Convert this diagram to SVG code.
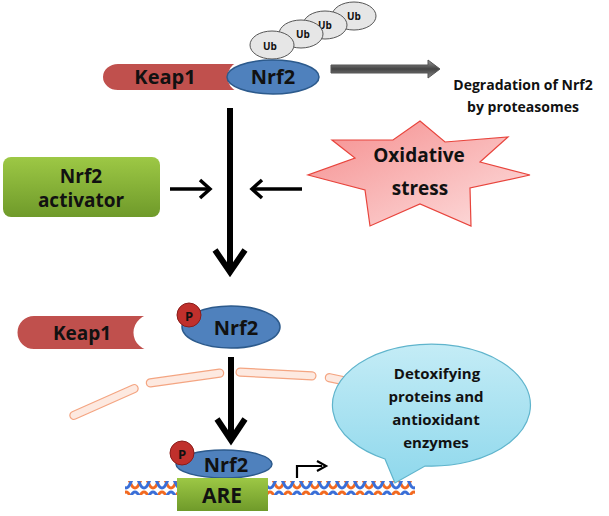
<svg xmlns="http://www.w3.org/2000/svg" width="609" height="516" viewBox="0 0 609 516">
<defs>
<linearGradient id="gr" x1="0" y1="0" x2="0" y2="1"><stop offset="0" stop-color="#9dc845"/><stop offset="1" stop-color="#6f9a2a"/></linearGradient>
<linearGradient id="st" x1="0" y1="0" x2="1" y2="1"><stop offset="0" stop-color="#f58d8d"/><stop offset="1" stop-color="#fde0e0"/></linearGradient>
<linearGradient id="bb" x1="0" y1="0" x2="0" y2="1"><stop offset="0" stop-color="#c4ecf6"/><stop offset="1" stop-color="#8fd8ec"/></linearGradient>
<linearGradient id="gy" x1="0" y1="0" x2="0" y2="1"><stop offset="0" stop-color="#999"/><stop offset="0.5" stop-color="#444"/><stop offset="1" stop-color="#888"/></linearGradient>
<pattern id="dna" width="18" height="14" patternUnits="userSpaceOnUse">
<path d="M0,2 C5,2 4,12 9,12 C14,12 13,2 18,2" fill="none" stroke="#f26a21" stroke-width="3"/>
<path d="M0,12 C5,12 4,2 9,2 C14,2 13,12 18,12" fill="none" stroke="#3a6fd8" stroke-width="3"/>
</pattern>
</defs>
<style>
text{font-family:"Open Sans","Liberation Sans",sans-serif;font-weight:bold;fill:#111;text-anchor:middle}
.keap{fill:#c0504d;stroke:#fff;stroke-width:2}
.nrf{fill:#4f81bd;stroke:#2c5a8c;stroke-width:1.5}
.ub{fill:#e6e6e6;stroke:#555;stroke-width:1}
.p{fill:#c0302c;stroke:#8a1c1a;stroke-width:1}
.ln{stroke:#000;stroke-width:6;fill:none;stroke-linecap:butt}
.ah{stroke:#000;stroke-width:6;fill:none;stroke-linejoin:miter}
.sm{stroke:#000;stroke-width:3.5;fill:none}
.mem{fill:#fde9e0;stroke:#f4a582;stroke-width:1.2}
</style>
<g id="membrane">
<rect class="mem" x="-37" y="-4" width="74" height="8" rx="4" transform="translate(104,402) rotate(-24)"/>
<rect class="mem" x="-39" y="-4" width="78" height="8" rx="4" transform="translate(185,378) rotate(-8)"/>
<rect class="mem" x="-40" y="-4" width="80" height="8" rx="4" transform="translate(276,374) rotate(3)"/>
<rect class="mem" x="-20" y="-4" width="40" height="8" rx="4" transform="translate(345,381) rotate(12)"/>
</g>
<g id="dna"><rect x="125" y="481" width="290" height="14" fill="url(#dna)"/></g>
<g id="keap1-top">
<path class="keap" d="M118,63 H238 A18,16 0 0 0 238,91 H118 A16,14 0 0 1 118,63 Z"/>
<text x="165" y="84" font-size="20">Keap1</text>
</g>
<g id="ub">
<ellipse class="ub" cx="354" cy="16" rx="22" ry="14"/><text x="354" y="20" font-size="10">Ub</text>
<ellipse class="ub" cx="325" cy="25" rx="22" ry="14"/><text x="325" y="29" font-size="10">Ub</text>
<ellipse class="ub" cx="301" cy="34" rx="22" ry="14"/><text x="303" y="38" font-size="10">Ub</text>
<ellipse class="ub" cx="272" cy="45" rx="22" ry="14"/><text x="270" y="50" font-size="10">Ub</text>
</g>
<g id="nrf2-top"><ellipse class="nrf" cx="273" cy="77" rx="46" ry="17"/><text x="273" y="84" font-size="20">Nrf2</text></g>
<g id="degradation">
<text x="523" y="90" font-size="14">Degradation of Nrf2</text>
<text x="523" y="112" font-size="14">by proteasomes</text>
</g>
<g id="activator">
<rect x="3" y="157" width="157" height="60" rx="8" fill="url(#gr)"/>
<text x="81" y="183" font-size="19">Nrf2</text><text x="81" y="207" font-size="19">activator</text>
</g>
<g id="oxidative">
<polygon points="420,121 445,142 508,137 480,162 530,175 470,188 471,226 420,204 370,226 365,190 308,175 355,158 332,140 393,140" fill="url(#st)" stroke="#e8443c" stroke-width="1.2"/>
<text x="419" y="162" font-size="19">Oxidative</text><text x="420" y="195" font-size="19">stress</text>
</g>
<g id="keap1-mid">
<path class="keap" d="M34,315 H153 A18,17 0 0 0 153,350 H34 A17,17 0 0 1 34,315 Z"/>
<text x="82" y="340" font-size="19">Keap1</text>
</g>
<g id="nrf2-mid">
<ellipse class="nrf" cx="231" cy="327" rx="49" ry="21"/><text x="236" y="335" font-size="20">Nrf2</text>
<circle class="p" cx="189" cy="315" r="12"/><text x="189" y="321" font-size="13">P</text>
</g>
<g id="bubble">
<path d="M395,483 L385,459 A99,61 0 1 1 425,466 Z" fill="url(#bb)" stroke="#5fb4cc" stroke-width="1.2"/>
<text x="437" y="379" font-size="15">Detoxifying</text>
<text x="436" y="402" font-size="15">proteins and</text>
<text x="436" y="425" font-size="15">antioxidant</text>
<text x="436" y="448" font-size="15">enzymes</text>
</g>
<g id="nrf2-bottom">
<ellipse class="nrf" cx="224" cy="464" rx="48" ry="14"/><text x="226" y="472" font-size="20">Nrf2</text>
<circle class="p" cx="182" cy="453" r="12"/><text x="182" y="459" font-size="13">P</text>
</g>
<g id="are"><rect x="177" y="478" width="91" height="33" fill="url(#gr)"/><text x="222" y="503" font-size="21">ARE</text></g>
<g id="connectors">
<line class="ln" x1="230" y1="108" x2="230" y2="270"/>
<polyline class="ah" points="215,250 230,272 245,250"/>
<line class="ln" x1="231" y1="357" x2="231" y2="436"/>
<polyline class="ah" points="217,419 231,440 245,419"/>
<line class="sm" x1="170" y1="189" x2="208" y2="189"/>
<polyline class="sm" points="200,180 210,189 200,198"/>
<line class="sm" x1="302" y1="189" x2="254" y2="189"/>
<polyline class="sm" points="262,180 252,189 262,198"/>
<polygon points="331,65 428,65 428,60 440,69 428,78 428,73 331,73" fill="url(#gy)" stroke="#555" stroke-width="1"/>
<polyline points="297,478 297,466 322,466" fill="none" stroke="#000" stroke-width="2.2"/>
<polyline points="317,461 326,466 317,471" fill="none" stroke="#000" stroke-width="2.2"/>
</g>
</svg>
